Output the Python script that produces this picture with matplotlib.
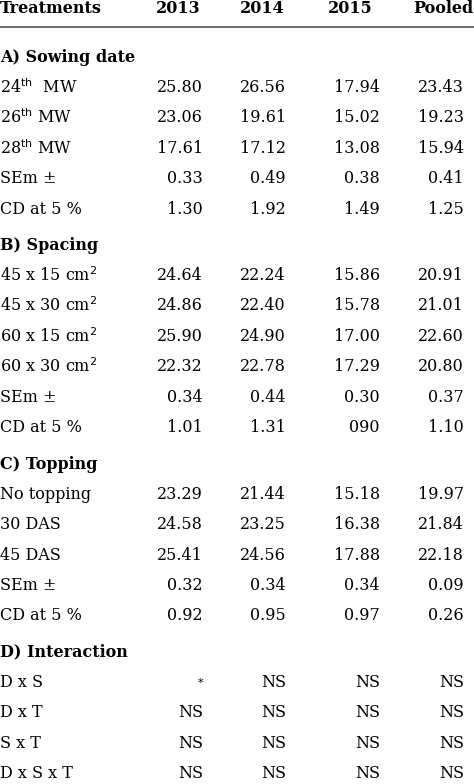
import matplotlib
matplotlib.use("Agg")
import matplotlib.pyplot as plt

header = ["Treatments", "2013", "2014", "2015", "Pooled"]
sections = ["A) Sowing date", "B) Spacing", "C) Topping", "D) Interaction"]
labels_A = ["24$^{\\rm th}$  MW", "26$^{\\rm th}$ MW", "28$^{\\rm th}$ MW", "SEm ±", "CD at 5 %"]
vals_A = [["25.80", "26.56", "17.94", "23.43"],
          ["23.06", "19.61", "15.02", "19.23"],
          ["17.61", "17.12", "13.08", "15.94"],
          ["0.33", "0.49", "0.38", "0.41"],
          ["1.30", "1.92", "1.49", "1.25"]]
labels_B = ["45 x 15 cm$^2$", "45 x 30 cm$^2$", "60 x 15 cm$^2$", "60 x 30 cm$^2$", "SEm ±", "CD at 5 %"]
vals_B = [["24.64", "22.24", "15.86", "20.91"],
          ["24.86", "22.40", "15.78", "21.01"],
          ["25.90", "24.90", "17.00", "22.60"],
          ["22.32", "22.78", "17.29", "20.80"],
          ["0.34", "0.44", "0.30", "0.37"],
          ["1.01", "1.31", "090", "1.10"]]
labels_C = ["No topping", "30 DAS", "45 DAS", "SEm ±", "CD at 5 %"]
vals_C = [["23.29", "21.44", "15.18", "19.97"],
          ["24.58", "23.25", "16.38", "21.84"],
          ["25.41", "24.56", "17.88", "22.18"],
          ["0.32", "0.34", "0.34", "0.09"],
          ["0.92", "0.95", "0.97", "0.26"]]
labels_D = ["D x S", "D x T", "S x T", "D x S x T"]
vals_D = [["*", "NS", "NS", "NS"],
          ["NS", "NS", "NS", "NS"],
          ["NS", "NS", "NS", "NS"],
          ["NS", "NS", "NS", "NS"]]

fig = plt.figure(figsize=(4.74, 7.84), dpi=100)
ax = fig.add_axes([0, 0, 1, 1])
ax.set_xlim(0, 474)
ax.set_ylim(784, 0)
ax.axis("off")
fam = "DejaVu Serif"
fs = 11.5

hx = [0, 178, 262, 350, 474]
ax.text(hx[0], 8, header[0], ha="left", va="center", fontsize=fs, fontweight="bold", family=fam)
for x, h in zip(hx[1:4], header[1:4]):
    ax.text(x, 8, h, ha="center", va="center", fontsize=fs, fontweight="bold", family=fam)
ax.text(hx[4], 8, header[4], ha="right", va="center", fontsize=fs, fontweight="bold", family=fam)
ax.plot([0, 474], [27, 27], color="#555555", lw=1.2)

colx = [203, 286, 380, 464]
groups = [(57, labels_A, vals_A), (245, labels_B, vals_B), (464, labels_C, vals_C), (652, labels_D, vals_D)]
step = 30.4
for sec, (y0, labs, vals) in zip(sections, groups):
    ax.text(0, y0, sec, ha="left", va="center", fontsize=fs, fontweight="bold", family=fam)
    for i, (lab, row) in enumerate(zip(labs, vals)):
        y = y0 + step * (i + 1)
        ax.text(0, y, lab, ha="left", va="center", fontsize=fs, family=fam)
        for x, v in zip(colx, row):
            ax.text(x, y, v, ha="right", va="center", fontsize=fs if v != "*" else 8, family=fam)

fig.savefig("out.png", dpi=100)
